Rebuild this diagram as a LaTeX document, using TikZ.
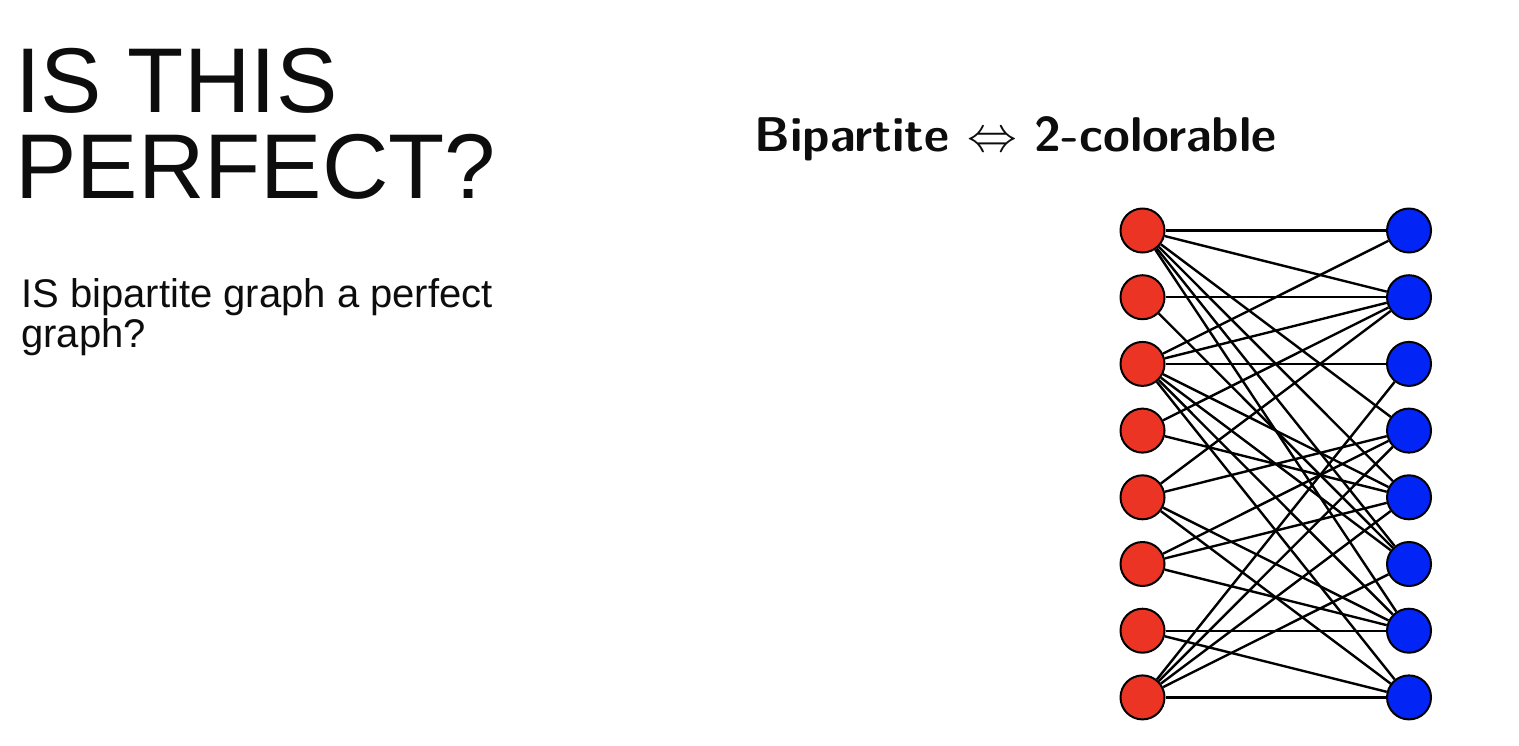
\documentclass[tikz,border=0pt]{standalone}
\usepackage{fontspec}
\newfontfamily\arial{Liberation Sans}
\definecolor{nodered}{RGB}{236,52,36}
\definecolor{nodeblue}{RGB}{2,36,245}
\begin{document}
\begin{tikzpicture}[x=0.5pt,y=-0.5pt,
  txt/.style={anchor=base west, inner sep=0pt, text=black!95},
  vred/.style={circle, draw=black, line width=1pt, fill=nodered, minimum size=22pt, inner sep=0pt},
  vblue/.style={circle, draw=black, line width=1pt, fill=nodeblue, minimum size=22pt, inner sep=0pt},
  edge/.style={draw=black, line width=1.2pt}]
\useasboundingbox (0,0) rectangle (1519,745);
\node[txt, font=\arial\fontsize{46}{43}\selectfont] (t1) at (15,112) {IS THIS};
\node[txt, font=\arial\fontsize{46}{43}\selectfont] (t2) at (15,198) {PERFECT?};
\node[txt, font=\arial\fontsize{20}{20.5}\selectfont] (s1) at (21,307) {IS bipartite graph a perfect};
\node[txt, font=\arial\fontsize{20}{20.5}\selectfont] (s2) at (21,347) {graph?};
\node[txt, font=\sffamily\bfseries\fontsize{24.4}{28}\selectfont] (h) at (754,151) {Bipartite $\Leftrightarrow$ 2-colorable};
\foreach \i in {1,...,8} {
  \node[vred] (L\i) at (1142.5,{230.5+66.7*(\i-1)}) {};
  \node[vblue] (R\i) at (1409,{230.5+66.7*(\i-1)}) {};
}
\foreach \a/\b in {1/1,1/2,1/4,1/5,1/6,1/7,
                   2/2,2/6,
                   3/1,3/2,3/3,3/5,3/6,3/7,3/8,
                   4/2,4/5,
                   5/2,5/4,5/7,5/8,
                   6/4,6/5,6/7,
                   7/7,7/8,
                   8/3,8/4,8/5,8/6,8/8} {
  \draw[edge] (L\a) -- (R\b);
}
\end{tikzpicture}
\end{document}
